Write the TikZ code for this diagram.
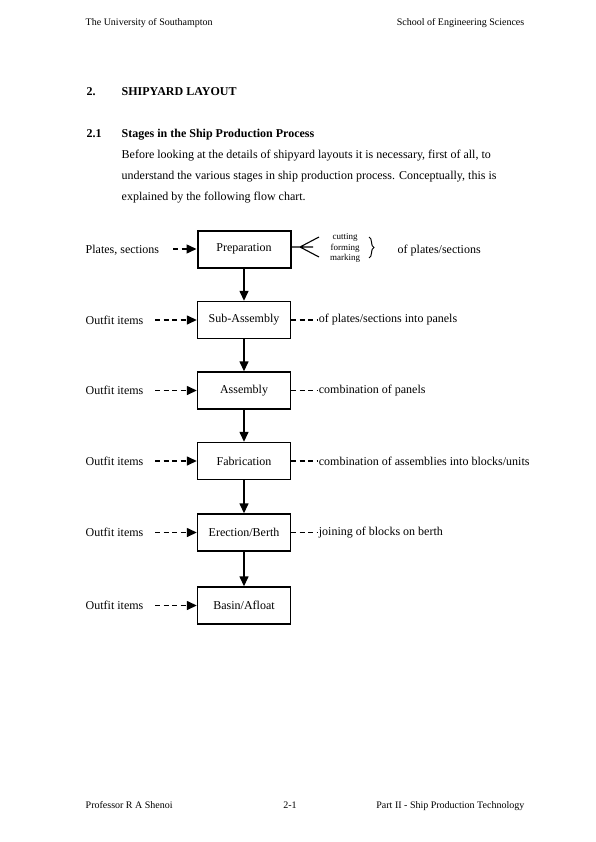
\documentclass[tikz,border=0pt]{standalone}
\usepackage{fontspec}
\setmainfont{Liberation Serif}
\usetikzlibrary{arrows.meta,decorations.pathreplacing}

\begin{document}
\begin{tikzpicture}[x=1pt,y=-1pt,-{Triangle[length=10pt,width=9pt]},line width=1.4pt,font=\fontsize{12}{14}\selectfont]
   \useasboundingbox (0,0) rectangle (595,842);
   \tikzstyle{main}=[rectangle, draw=black, minimum width=93pt, minimum height=37pt, inner sep=0pt]
   \tikzstyle{feed}=[dash pattern=on 5pt off 3.5pt]
   \tikzstyle{txt}=[anchor=base west, inner sep=0pt]
   \tikzstyle{small}=[font=\fontsize{10}{12}\selectfont]
   % header and footer
   \node[txt,small] (uni) at (85,26) {The University of Southampton};
   \node[txt,small,anchor=base east] (school) at (525,26) {School of Engineering Sciences};
   \node[txt,small] (prof) at (85,808) {Professor R A Shenoi};
   \node[txt,small,anchor=base] (page) at (290,808) {2-1};
   \node[txt,small,anchor=base east] (part) at (525,808) {Part II - Ship Production Technology};
   % headings and text
   \node[txt,font=\fontsize{12}{14}\bfseries] (secnum) at (86,96) {2.};
   \node[txt,font=\fontsize{12}{14}\bfseries] (sec) at (121,96) {SHIPYARD LAYOUT};
   \node[txt,font=\fontsize{12}{14}\bfseries] (subnum) at (86,138) {2.1};
   \node[txt,font=\fontsize{12}{14}\bfseries] (subsec) at (121,138) {Stages in the Ship Production Process};
   \node[txt] (par1) at (121,158.5) {Before looking at the details of shipyard layouts it is necessary, first of all, to};
   \node[txt] (par2) at (121,179.5) {understand the various stages in ship production process. Conceptually, this is};
   \node[txt] (par3) at (121,200.5) {explained by the following flow chart.};
   % flow chart
   \node[main, line width=2pt] (prep) at (244,249) {Preparation};
   \node[txt] (plates) at (85,253) {Plates, sections};
   \coordinate (inprep) at (173,249);
   \path[feed] (inprep) edge (prep.west);
   \foreach \name/\y/\stage/\last in {sa/320/Sub-Assembly/prep, asm/390.5/Assembly/sa, fab/461/Fabrication/asm, ere/532.5/{Erection/Berth}/fab, bas/605.5/{Basin/Afloat}/ere} {
       \node[main] (\name) at (244,\y) {\stage};
       \path (\last) edge (\name);
       \node[txt] (lbl\name) at (85,\y+4) {Outfit items};
       \coordinate (in\name) at (155,\y);
       \path[feed] (in\name) edge (\name.west);
   }
   \foreach \name/\what in {sa/{of plates/sections into panels}, asm/{combination of panels}, fab/{combination of assemblies into blocks/units}, ere/{joining of blocks on berth}} {
       \path (\name.east) ++(27,0) coordinate (out\name);
       \draw[feed,-] (\name.east) -- (out\name);
       \node[txt,anchor=west] (what\name) at (out\name) {\what};
   }
   % fan and brace next to Preparation
   \coordinate (fork) at (300,247);
   \draw[-,line width=1.1pt] (prep.east |- fork) -- (313,247) (319,237) -- (fork) -- (319,257);
   \node[align=center, font=\fontsize{9}{10.5}\selectfont, inner sep=0pt] (ops) at (345,248) {cutting\\forming\\marking};
   \draw[-,line width=1pt,decorate,decoration={brace,amplitude=5pt}] (369,237) -- (369,258);
   \node[txt] (ofplates) at (397,253) {of plates/sections};
\end{tikzpicture}
\end{document}
